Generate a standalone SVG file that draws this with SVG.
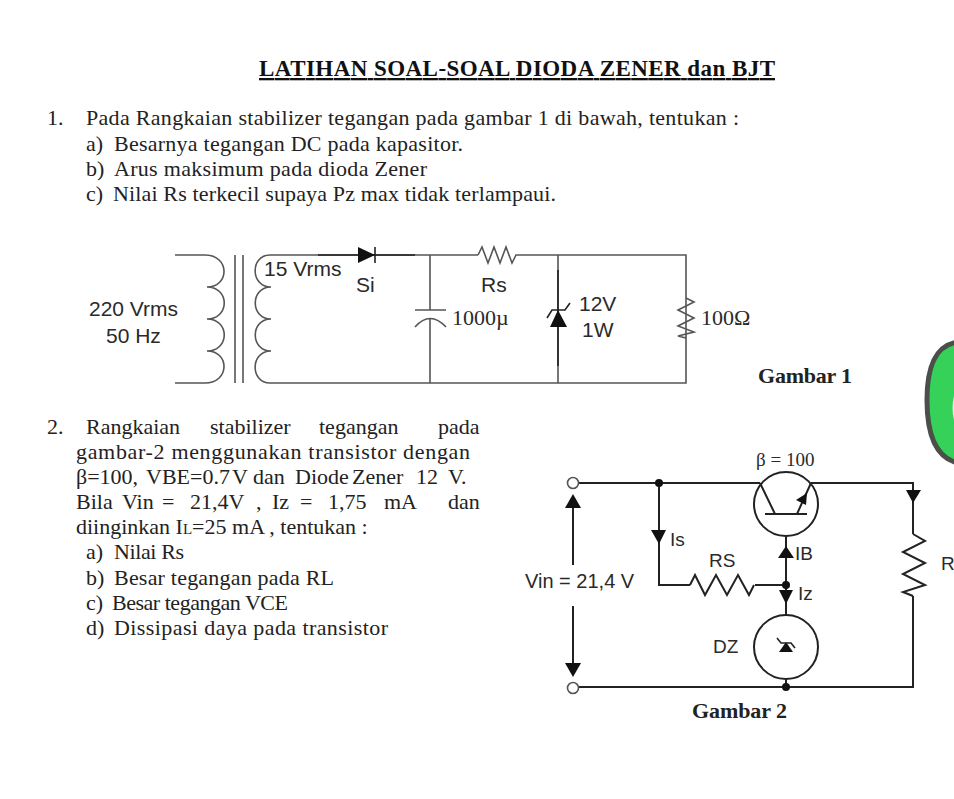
<svg xmlns="http://www.w3.org/2000/svg" width="954" height="799" viewBox="0 0 954 799">
<style>
.b{font-family:"Liberation Serif","DejaVu Serif",serif;font-size:22px;fill:#222}
.t{font-family:"Liberation Serif","DejaVu Serif",serif;font-size:23px;font-weight:bold;fill:#111}
.h{font-family:"Liberation Serif","DejaVu Serif",serif;font-size:22px;font-weight:bold;fill:#222}
.a{font-family:"Liberation Sans",Arial,sans-serif;font-size:21px;fill:#2a2a2a}
.c{font-family:"Liberation Sans",Arial,sans-serif;font-size:19px;fill:#2a2a2a}
.s{font-family:"Liberation Serif",serif;font-size:22px;fill:#2a2a2a}
.w1{fill:none;stroke:#555;stroke-width:1.6}
.k1{fill:none;stroke:#222;stroke-width:1.6}
.w2{fill:none;stroke:#222;stroke-width:2}
.f{fill:#111;stroke:none}
.d{fill:#111;stroke:none}
.o{fill:#fff;stroke:#555;stroke-width:1.6}
</style>
<rect width="954" height="799" fill="#fff"/>

<g id="text-body">
<text class="t" x="259" y="76" textLength="516" lengthAdjust="spacing" text-decoration="underline">LATIHAN SOAL-SOAL DIODA ZENER dan BJT</text>
<text class="b" x="47" y="125">1.</text>
<text class="b" x="86" y="125" textLength="653" lengthAdjust="spacing">Pada Rangkaian stabilizer tegangan pada gambar 1 di bawah, tentukan :</text>
<text class="b" x="86" y="151">a)</text>
<text class="b" x="114" y="151" textLength="349" lengthAdjust="spacing">Besarnya tegangan DC pada kapasitor.</text>
<text class="b" x="86" y="176">b)</text>
<text class="b" x="114" y="176" textLength="313" lengthAdjust="spacing">Arus maksimum pada dioda Zener</text>
<text class="b" x="86" y="201">c)</text>
<text class="b" x="113" y="201" textLength="443" lengthAdjust="spacing">Nilai Rs terkecil supaya Pz max tidak terlampaui.</text>
<text class="b" x="47" y="434">2.</text>
<text class="b" y="434"><tspan x="86">Rangkaian</tspan><tspan x="210">stabilizer</tspan><tspan x="319">tegangan</tspan><tspan x="438">pada</tspan></text>
<text class="b" x="76" y="459" textLength="394" lengthAdjust="spacing">gambar-2 menggunakan transistor dengan</text>
<text class="b" y="484"><tspan x="76">β=100,</tspan><tspan x="146">VBE=0.7</tspan><tspan x="232">V</tspan><tspan x="253">dan</tspan><tspan x="295">Diode</tspan><tspan x="352">Zener</tspan><tspan x="416">12</tspan><tspan x="448">V.</tspan></text>
<text class="b" y="509"><tspan x="76">Bila</tspan><tspan x="122">Vin</tspan><tspan x="162">=</tspan><tspan x="190">21,4V</tspan><tspan x="256">,</tspan><tspan x="272">Iz</tspan><tspan x="300">=</tspan><tspan x="328">1,75</tspan><tspan x="384">mA</tspan><tspan x="448">dan</tspan></text>
<text class="b" y="534" x="76">diinginkan I<tspan font-size="15">L</tspan>=25 mA , tentukan :</text>
<text class="b" x="86" y="559">a)</text>
<text class="b" x="114" y="559" textLength="70" lengthAdjust="spacing">Nilai Rs</text>
<text class="b" x="86" y="585">b)</text>
<text class="b" x="114" y="585" textLength="220" lengthAdjust="spacing">Besar tegangan pada RL</text>
<text class="b" x="86" y="610">c)</text>
<text class="b" x="112" y="610" textLength="176" lengthAdjust="spacing">Besar tegangan VCE</text>
<text class="b" x="86" y="635">d)</text>
<text class="b" x="114" y="635" textLength="274" lengthAdjust="spacing">Dissipasi daya pada transistor</text>
</g>

<g id="connectors">
<path class="w1" d="M175 255H205M175 383H205"/>
<path class="w1" d="M270 255H430M270 383H686V255H519M478 255H430V310M430 319V383M558 255V383M686 255V298M686 338V383"/>
<path class="k1" d="M318 255H415M558 270V366"/>
<path class="w2" d="M579 483H760M811 483H913V534M913 596V687H579M659 483V585H690M755 585H786M786 535V615M786 678V687"/>
<path class="w2" d="M573 508V565M573 606V663"/>
</g>

<g id="transformer">
<path class="w1" d="M205 255C230 255 230 287 207 287C230 287 230 319 207 319C230 319 230 351 207 351C230 351 230 383 205 383"/>
<path class="w1" d="M235 255V383M243 255V383"/>
<path class="w1" d="M270 255C250 255 250 287 271 287C250 287 250 319 271 319C250 319 250 351 271 351C250 351 250 383 270 383"/>
</g>
<g id="diode-si">
<polygon class="f" points="358,247 375,255 358,263"/>
<path class="k1" d="M375 247V263"/>
</g>
<g id="capacitor">
<path class="w1" d="M415 310H446M415 327Q430 310 446 327"/>
</g>
<g id="resistor-rs">
<path class="w1" d="M478 255L482 247L488 263L494 247L500 263L506 247L512 263L516 255H519"/>
</g>
<g id="zener-1">
<polygon class="f" points="558,310 567,327 550,327"/>
<path class="k1" d="M547 318L552 310H565L570 303"/>
</g>
<g id="resistor-100">
<path class="w1" d="M686 298L694 302L678 310L694 318L678 326L694 332L678 336L686 338"/>
</g>

<g id="vin-terminals">
<circle class="o" cx="573" cy="483" r="5.5"/>
<circle class="o" cx="573" cy="688" r="5.5"/>
<polygon class="f" points="573,494 581,508 565,508"/>
<polygon class="f" points="565,663 581,663 573,677"/>
</g>
<g id="junctions">
<circle class="d" cx="659" cy="483" r="4"/>
<circle class="d" cx="786" cy="585" r="4"/>
<circle class="d" cx="786" cy="687" r="4"/>
</g>
<g id="arrow-is"><polygon class="f" points="651,530 666,530 659,544"/></g>
<g id="arrow-ib"><polygon class="f" points="786,546 794,558 778,558"/></g>
<g id="arrow-iz"><polygon class="f" points="779,590 793,590 786,604"/></g>
<g id="arrow-rl"><polygon class="f" points="906,490 921,490 913,503"/></g>
<g id="resistor-rs2">
<path class="w2" d="M690 585L695 575L705 595L716 575L727 595L738 575L749 595L754 585"/>
</g>
<g id="resistor-rl">
<path class="w2" d="M913 534L925 541L903 552L925 563L903 574L925 585L903 592L913 596"/>
</g>
<g id="transistor">
<circle class="w2" cx="786" cy="504" r="32"/>
<path class="w2" d="M765 514H807M760 483L775 514M797 514L811 483"/>
<polygon class="f" points="807,493 806,505 796,500"/>
</g>
<g id="zener-dz">
<circle class="w2" cx="786" cy="647" r="32"/>
<polygon class="f" points="786,642 793,652 779,652"/>
<path class="k1" d="M777 638L781 643H791L795 648"/>
</g>

<g id="labels">
<text class="a" x="264" y="276">15 Vrms</text>
<text class="a" x="356" y="292">Si</text>
<text class="a" x="89" y="316">220 Vrms</text>
<text class="a" x="106" y="343">50 Hz</text>
<text class="a" x="481" y="292">Rs</text>
<text class="s" x="452" y="325">1000µ</text>
<text class="a" x="579" y="311">12V</text>
<text class="a" x="582" y="337">1W</text>
<text class="s" x="701" y="325">100Ω</text>
<text class="h" x="758" y="383" textLength="94" lengthAdjust="spacing">Gambar 1</text>
<text class="s" x="756" y="466" style="font-size:19px">β = 100</text>
<text class="c" x="670" y="546">Is</text>
<text class="c" x="709" y="567">RS</text>
<text class="c" x="795" y="560">IB</text>
<text class="c" x="798" y="600">Iz</text>
<text class="a" x="525" y="588" style="font-size:20px">Vin = 21,4 V</text>
<text class="c" x="713" y="653">DZ</text>
<text class="h" x="692" y="718" textLength="95" lengthAdjust="spacing">Gambar 2</text>
<text class="c" x="941" y="570">R</text>
</g>

<path id="green-shape" d="M958 342C936 345 927 365 927 400C927 435 936 458 958 463Z" fill="#36d158" stroke="#4a4f4a" stroke-width="5"/>
<path id="green-highlight" d="M954 396Q951 408 954 420Z" fill="#e8f5ea"/>
</svg>
